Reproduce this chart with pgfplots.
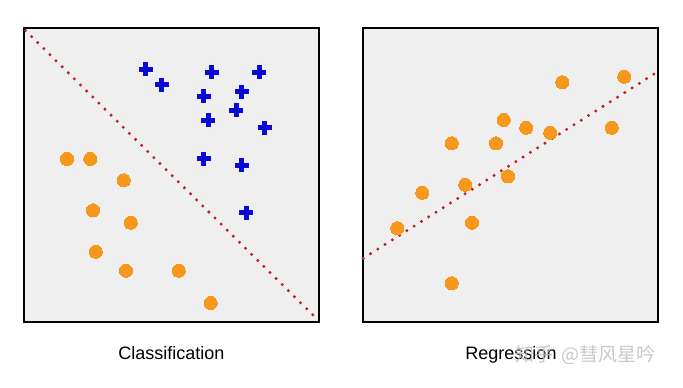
\documentclass[border=0pt]{standalone}
\usepackage{pgfplots}
\pgfplotsset{compat=1.18}
\usepackage{fontspec}
\setmainfont{Liberation Sans}
\newfontfamily\cjk{Noto Sans CJK SC}
\definecolor{bg}{RGB}{239,239,239}
\definecolor{dotorange}{RGB}{247,152,30}
\definecolor{crossblue}{RGB}{10,10,215}
\definecolor{linered}{RGB}{195,30,40}
\pgfplotsset{
  panel/.style={
    scale only axis, width=295bp, height=294bp,
    y dir=reverse, axis background/.style={fill=bg},
    axis line style={line width=1.3bp, black},
    xtick=\empty, ytick=\empty, clip=false, anchor=center,
  },
  fitline/.style={linered, line width=3.3bp, line cap=round, dash pattern=on 0bp off 8.6bp},
  orangedots/.style={only marks, color=dotorange, mark=*, mark size=6.6bp, mark options={draw=dotorange, fill=dotorange, line width=0pt}},
  bluecross/.style={only marks, color=crossblue, mark=+, mark size=7bp, mark options={draw=crossblue, line width=5bp}},
}
\begin{document}
\begin{tikzpicture}
\useasboundingbox (0,0) rectangle (683bp,388bp);
\begin{axis}[panel, at={(171.5bp,213bp)}, xmin=24, xmax=319, ymin=28, ymax=322]
\addplot[fitline] coordinates {(25.5,30.5) (316,318)};
\addplot[bluecross] coordinates {
(145.7,69.3) (161.7,85) (211.7,72.3) (259,72.3) (203.7,96.3) (241.7,91.7)
(236.3,110) (208,120) (264.7,127.7) (203.7,158.7) (241.7,165) (246,212.7)};
\addplot[orangedots] coordinates {
(67,159) (90.3,159) (123.7,180.3) (93,210.3) (130.7,222.7) (95.7,251.7)
(126,270.7) (178.7,270.7) (210.7,303)};
\end{axis}
\begin{axis}[panel, at={(510.5bp,213bp)}, xmin=363, xmax=658, ymin=28, ymax=322]
\addplot[fitline] coordinates {(363.3,258.3) (657.7,71.7)};
\addplot[orangedots] coordinates {
(397.3,228.3) (422.3,192.7) (451.7,143.3) (451.7,283.3) (465.3,184.7) (472,222.7)
(503.7,120) (496,143.3) (508,176.3) (526.3,127.7) (550.3,132.7) (562.3,82.3)
(611.7,127.7) (624.3,76.7)};
\end{axis}
\node[anchor=base, font=\fontsize{18bp}{20bp}\selectfont] at (171.5bp,29bp) {Classification};
\node[anchor=base, font=\fontsize{18bp}{20bp}\selectfont] at (511bp,29bp) {Regression};
\node[anchor=base west, inner sep=0pt, text=black!25, opacity=0.85, font=\cjk\fontsize{19bp}{21bp}\selectfont] at (515bp,27bp) {知乎\ \ @彗风星吟};
\end{tikzpicture}
\end{document}
